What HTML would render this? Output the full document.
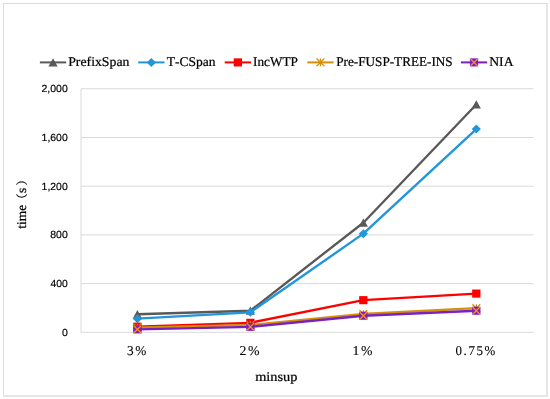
<!DOCTYPE html>
<html><head><meta charset="utf-8"><title>chart</title>
<style>
html,body{margin:0;padding:0;background:#fff;}
body{width:550px;height:399px;overflow:hidden;position:relative;}
.frame{position:absolute;left:3px;top:3px;width:545px;height:394px;border:solid #dcdcdc;border-width:1px 2px 2px 1px;border-right-color:#e6e6e6;border-bottom-color:#e6e6e6;box-sizing:border-box;}
svg{position:absolute;left:0;top:0;}
text{fill:#000;text-rendering:geometricPrecision;font-kerning:none;}
.leg,.axt{stroke:#000;stroke-width:0.22px;}
.cat{stroke:#000;stroke-width:0.1px;}
.tick{stroke:#000;stroke-width:0.18px;}
.leg{font-family:"Liberation Serif",serif;font-size:13.3px;}
.cat{font-family:"Liberation Serif",serif;font-size:13.5px;letter-spacing:1.7px;}
.axt{font-family:"Liberation Serif","Noto Serif CJK SC",serif;font-size:13.3px;}
.par{font-size:11.5px;}
.tick{font-family:"Liberation Sans",sans-serif;font-size:10.3px;}
</style></head><body>
<div class="frame"></div>
<svg width="550" height="399" viewBox="0 0 550 399">
<line x1="81.0" y1="332.30" x2="533.4" y2="332.30" stroke="#d9d9d9" stroke-width="1"/>
<line x1="81.0" y1="283.59" x2="533.4" y2="283.59" stroke="#d9d9d9" stroke-width="1"/>
<line x1="81.0" y1="234.88" x2="533.4" y2="234.88" stroke="#d9d9d9" stroke-width="1"/>
<line x1="81.0" y1="186.17" x2="533.4" y2="186.17" stroke="#d9d9d9" stroke-width="1"/>
<line x1="81.0" y1="137.46" x2="533.4" y2="137.46" stroke="#d9d9d9" stroke-width="1"/>
<line x1="81.0" y1="88.75" x2="533.4" y2="88.75" stroke="#d9d9d9" stroke-width="1"/>
<line x1="81.0" y1="88.75" x2="81.0" y2="332.30" stroke="#d9d9d9" stroke-width="1"/>
<polyline points="137.40,314.28 250.37,310.75 363.34,222.70 476.31,104.46" fill="none" stroke="#595959" stroke-width="2.35" stroke-linejoin="round" stroke-linecap="round"/>
<path d="M137.40 310.08 L142.00 318.38 L132.80 318.38 Z" fill="#595959"/>
<path d="M250.37 306.55 L254.97 314.85 L245.77 314.85 Z" fill="#595959"/>
<path d="M363.34 218.50 L367.94 226.80 L358.74 226.80 Z" fill="#595959"/>
<path d="M476.31 100.26 L480.91 108.56 L471.71 108.56 Z" fill="#595959"/>
<polyline points="137.40,318.66 250.37,312.33 363.34,233.66 476.31,129.06" fill="none" stroke="#2196dc" stroke-width="2.35" stroke-linejoin="round" stroke-linecap="round"/>
<path d="M137.40 314.16 L142.00 318.66 L137.40 323.16 L132.80 318.66 Z" fill="#2196dc"/>
<path d="M250.37 307.83 L254.97 312.33 L250.37 316.83 L245.77 312.33 Z" fill="#2196dc"/>
<path d="M363.34 229.16 L367.94 233.66 L363.34 238.16 L358.74 233.66 Z" fill="#2196dc"/>
<path d="M476.31 124.56 L480.91 129.06 L476.31 133.56 L471.71 129.06 Z" fill="#2196dc"/>
<polyline points="137.40,326.70 250.37,322.80 363.34,300.15 476.31,293.58" fill="none" stroke="#ff0000" stroke-width="2.35" stroke-linejoin="round" stroke-linecap="round"/>
<rect x="133.25" y="322.65" width="8.3" height="8.1" fill="#ff0000"/>
<rect x="246.22" y="318.75" width="8.3" height="8.1" fill="#ff0000"/>
<rect x="359.19" y="296.10" width="8.3" height="8.1" fill="#ff0000"/>
<rect x="472.16" y="289.53" width="8.3" height="8.1" fill="#ff0000"/>
<polyline points="137.40,327.67 250.37,324.99 363.34,314.03 476.31,308.19" fill="none" stroke="#d4900a" stroke-width="2.35" stroke-linejoin="round" stroke-linecap="round"/>
<path d="M133.50 323.77 L141.30 331.57 M141.30 323.77 L133.50 331.57 M137.40 323.77 L137.40 331.57" stroke="#d4900a" stroke-width="1.25" fill="none"/>
<path d="M246.47 321.09 L254.27 328.89 M254.27 321.09 L246.47 328.89 M250.37 321.09 L250.37 328.89" stroke="#d4900a" stroke-width="1.25" fill="none"/>
<path d="M359.44 310.13 L367.24 317.93 M367.24 310.13 L359.44 317.93 M363.34 310.13 L363.34 317.93" stroke="#d4900a" stroke-width="1.25" fill="none"/>
<path d="M472.41 304.29 L480.21 312.09 M480.21 304.29 L472.41 312.09 M476.31 304.29 L476.31 312.09" stroke="#d4900a" stroke-width="1.25" fill="none"/>
<polyline points="137.40,329.38 250.37,326.82 363.34,315.74 476.31,310.75" fill="none" stroke="#7a22c0" stroke-width="2.35" stroke-linejoin="round" stroke-linecap="round"/>
<rect x="133.25" y="325.33" width="8.3" height="8.1" fill="#7a22c0"/><path d="M133.70 325.68 L141.10 333.08 M141.10 325.68 L133.70 333.08" stroke="#ff8a1e" stroke-width="1.3" fill="none"/>
<rect x="246.22" y="322.77" width="8.3" height="8.1" fill="#7a22c0"/><path d="M246.67 323.12 L254.07 330.52 M254.07 323.12 L246.67 330.52" stroke="#ff8a1e" stroke-width="1.3" fill="none"/>
<rect x="359.19" y="311.69" width="8.3" height="8.1" fill="#7a22c0"/><path d="M359.64 312.04 L367.04 319.44 M367.04 312.04 L359.64 319.44" stroke="#ff8a1e" stroke-width="1.3" fill="none"/>
<rect x="472.16" y="306.70" width="8.3" height="8.1" fill="#7a22c0"/><path d="M472.61 307.05 L480.01 314.45 M480.01 307.05 L472.61 314.45" stroke="#ff8a1e" stroke-width="1.3" fill="none"/>
<line x1="39.9" y1="62.4" x2="66.2" y2="62.4" stroke="#595959" stroke-width="2.0"/>
<path d="M53.05 58.20 L57.65 66.50 L48.45 66.50 Z" fill="#595959"/>
<line x1="138.2" y1="62.4" x2="164.5" y2="62.4" stroke="#2196dc" stroke-width="2.0"/>
<path d="M151.35 57.90 L155.95 62.40 L151.35 66.90 L146.75 62.40 Z" fill="#2196dc"/>
<line x1="224.7" y1="62.4" x2="251.0" y2="62.4" stroke="#ff0000" stroke-width="2.0"/>
<rect x="233.70" y="58.35" width="8.3" height="8.1" fill="#ff0000"/>
<line x1="307.3" y1="62.4" x2="333.6" y2="62.4" stroke="#d4900a" stroke-width="2.0"/>
<path d="M316.55 58.50 L324.35 66.30 M324.35 58.50 L316.55 66.30 M320.45 58.50 L320.45 66.30" stroke="#d4900a" stroke-width="1.25" fill="none"/>
<line x1="460.9" y1="62.4" x2="487.2" y2="62.4" stroke="#7a22c0" stroke-width="2.0"/>
<rect x="469.90" y="58.35" width="8.3" height="8.1" fill="#7a22c0"/><path d="M470.35 58.70 L477.75 66.10 M477.75 58.70 L470.35 66.10" stroke="#ff8a1e" stroke-width="1.3" fill="none"/>
<text class="leg" transform="translate(68.21 66.00) scale(1.0352 1.0)">PrefixSpan</text>
<text class="leg" transform="translate(166.67 66.00) scale(1.0189 1.0)">T-CSpan</text>
<text class="leg" transform="translate(253.03 66.00) scale(0.9963 1.0)">IncWTP</text>
<text class="leg" transform="translate(336.23 66.00) scale(0.9914 1.0)">Pre-FUSP-TREE-INS</text>
<text class="leg" transform="translate(489.22 66.00) scale(1.0269 1.0)">NIA</text>
<text class="cat" transform="translate(126.91 354.90) scale(0.9845 1.0)">3%</text>
<text class="cat" transform="translate(239.44 354.90) scale(1.0246 1.0)">2%</text>
<text class="cat" transform="translate(352.44 354.90) scale(1.0195 1.0)">1%</text>
<text class="cat" transform="translate(455.46 354.90) scale(0.9583 1.0)">0.75%</text>
<text class="axt" transform="translate(255.21 381.00) scale(1.0785 1.0)">minsup</text>
<text class="tick" transform="translate(61.88 335.80) scale(1.0187 1.0)">0</text>
<text class="tick" transform="translate(50.45 287.09) scale(1.0044 1.0)">400</text>
<text class="tick" transform="translate(50.23 238.38) scale(1.0174 1.0)">800</text>
<text class="tick" transform="translate(41.59 189.67) scale(1.0135 1.0)">1,200</text>
<text class="tick" transform="translate(41.59 140.96) scale(1.0135 1.0)">1,600</text>
<text class="tick" transform="translate(41.46 92.25) scale(1.0187 1.0)">2,000</text>
<text class="axt" transform="translate(26.1 228.8) rotate(-90) scale(1.012 1)">time<tspan class="par" x="23.3">（</tspan><tspan x="35.45">s</tspan><tspan class="par" x="42.75">）</tspan></text>
</svg>
</body></html>
